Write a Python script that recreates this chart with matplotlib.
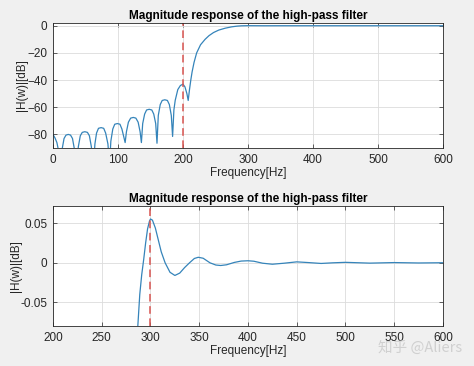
import matplotlib
matplotlib.use("Agg")
import matplotlib.pyplot as plt

# top panel: full magnitude response [Hz, dB]
freq_full = [0, 3, 6, 9, 11,
             14, 17, 20, 23.5, 27, 30, 33, 36,
             39, 42, 45, 49, 53, 56, 59, 62,
             64.5, 67, 70, 74, 78, 81, 84.5, 87,
             89, 92, 95, 99, 103, 106, 109, 111,
             113, 116, 119.5, 123.5, 127.5, 131, 134, 136,
             138, 141, 144, 148, 152, 155, 158, 160,
             162, 165, 168, 172, 176, 179, 182, 184,
             186, 188, 192, 196, 200, 203, 206, 208,
             210, 212, 214, 217, 221, 227, 234, 240, 247, 255, 265, 275,
             283, 290, 300, 325, 350, 375, 400, 450, 500, 600]
mag_full = [-80, -82.5, -86, -93, -105,
            -91, -83, -80.5, -80, -80.5, -83, -91, -105,
            -89, -81, -78.5, -78, -78.5, -81, -89, -105,
            -87, -79, -75.5, -75, -75.5, -79, -87, -102,
            -85, -76, -72.5, -72, -72.5, -76, -82, -86,
            -78, -71, -68, -67.5, -68, -71, -78, -86,
            -72, -65, -62, -61.5, -62, -65, -72, -86.5,
            -66, -58, -55, -54.5, -55, -58, -66, -81.5,
            -62, -55, -47, -44, -43, -45, -50, -55,
            -47, -40, -34, -27, -20, -14, -10, -7.3, -5, -3.2, -1.8, -0.8,
            -0.3, -0.05, 0.05, -0.016, 0.007, -0.003, 0.003, 0.001, 0.0, 0.0]

# bottom panel: passband ripple [Hz, dB]
freq_pass = [280, 285, 287, 289, 291, 293, 295, 297, 299, 300, 302, 305, 308,
             311, 315, 320, 325, 330, 335, 340, 345, 349, 354, 361, 367, 372,
             378, 386, 393, 400, 406, 415, 425, 437, 450, 462, 475, 487, 500,
             525, 550, 575, 600]
mag_pass = [-0.3, -0.12, -0.08, -0.04, -0.015, 0.004, 0.025, 0.043, 0.053,
            0.0555, 0.054, 0.044, 0.029, 0.014, 0.0, -0.012, -0.016, -0.013,
            -0.006, 0.0, 0.0055, 0.007, 0.0058, 0.0, -0.0028, -0.0034, -0.0025,
            0.0005, 0.0022, 0.0026, 0.002, -0.0005, -0.0018, -0.0005, 0.0012,
            0.0003, -0.0008, 0.0, 0.0006, -0.0004, 0.0003, -0.0002, 0.0001]

cutoff_stop = 200
cutoff_pass = 300
title_txt = "Magnitude response of the high-pass filter"

line_col = "#3584ba"
mark_col = "#d9534f"

plt.rcParams["font.family"] = ["Liberation Sans", "DejaVu Sans"]

fig = plt.figure(figsize=(4.74, 3.66), dpi=100, facecolor="#f0f0f0")
ax1 = fig.add_axes([0.1118, 0.5956, 0.8228, 0.3415])
ax2 = fig.add_axes([0.1118, 0.1093, 0.8228, 0.328])


def style(ax, ylab_x):
    ax.set_facecolor("white")
    ax.grid(True, color="#dcdcdc", linewidth=0.6)
    ax.set_axisbelow(True)
    ax.tick_params(direction="in", length=3, width=0.5, labelsize=8.5,
                   colors="#262626", top=True, right=True, pad=4)
    for s in ax.spines.values():
        s.set_color("#262626")
        s.set_linewidth(0.6)
    ax.set_xlabel("Frequency[Hz]", fontsize=8.5, color="#262626", labelpad=1)
    ax.set_ylabel("|H(w)|[dB]", fontsize=8.5, color="#262626")
    ax.yaxis.set_label_coords(ylab_x, 0.5)
    ax.set_title(title_txt, fontsize=8.5, fontweight="bold", pad=3)


ax1.plot(freq_full, mag_full, color=line_col, linewidth=0.9)
ax1.axvline(cutoff_stop, color=mark_col, linestyle="--", dashes=(5, 3), linewidth=1.1)
ax1.set_xlim(0, 600)
ax1.set_ylim(-90, 2)
ax1.set_xticks(range(0, 601, 100))
ax1.set_yticks([-80, -60, -40, -20, 0])
style(ax1, -0.065)

ax2.plot(freq_pass, mag_pass, color=line_col, linewidth=0.9)
ax2.axvline(cutoff_pass, color=mark_col, linestyle="--", dashes=(5, 3), linewidth=1.1)
ax2.set_xlim(200, 600)
ax2.set_ylim(-0.08, 0.072)
ax2.set_xticks(range(200, 601, 50))
ax2.set_yticks([-0.05, 0, 0.05])
ax2.set_yticklabels(["-0.05", "0", "0.05"])
style(ax2, -0.08)

fig.text(0.975, 0.03, "知乎 @Aliers", fontsize=10.5, color="#d0d0d0", ha="right",
         va="bottom", family=["Noto Sans CJK SC", "DejaVu Sans"])

fig.savefig("out.png", dpi=100, facecolor=fig.get_facecolor())
